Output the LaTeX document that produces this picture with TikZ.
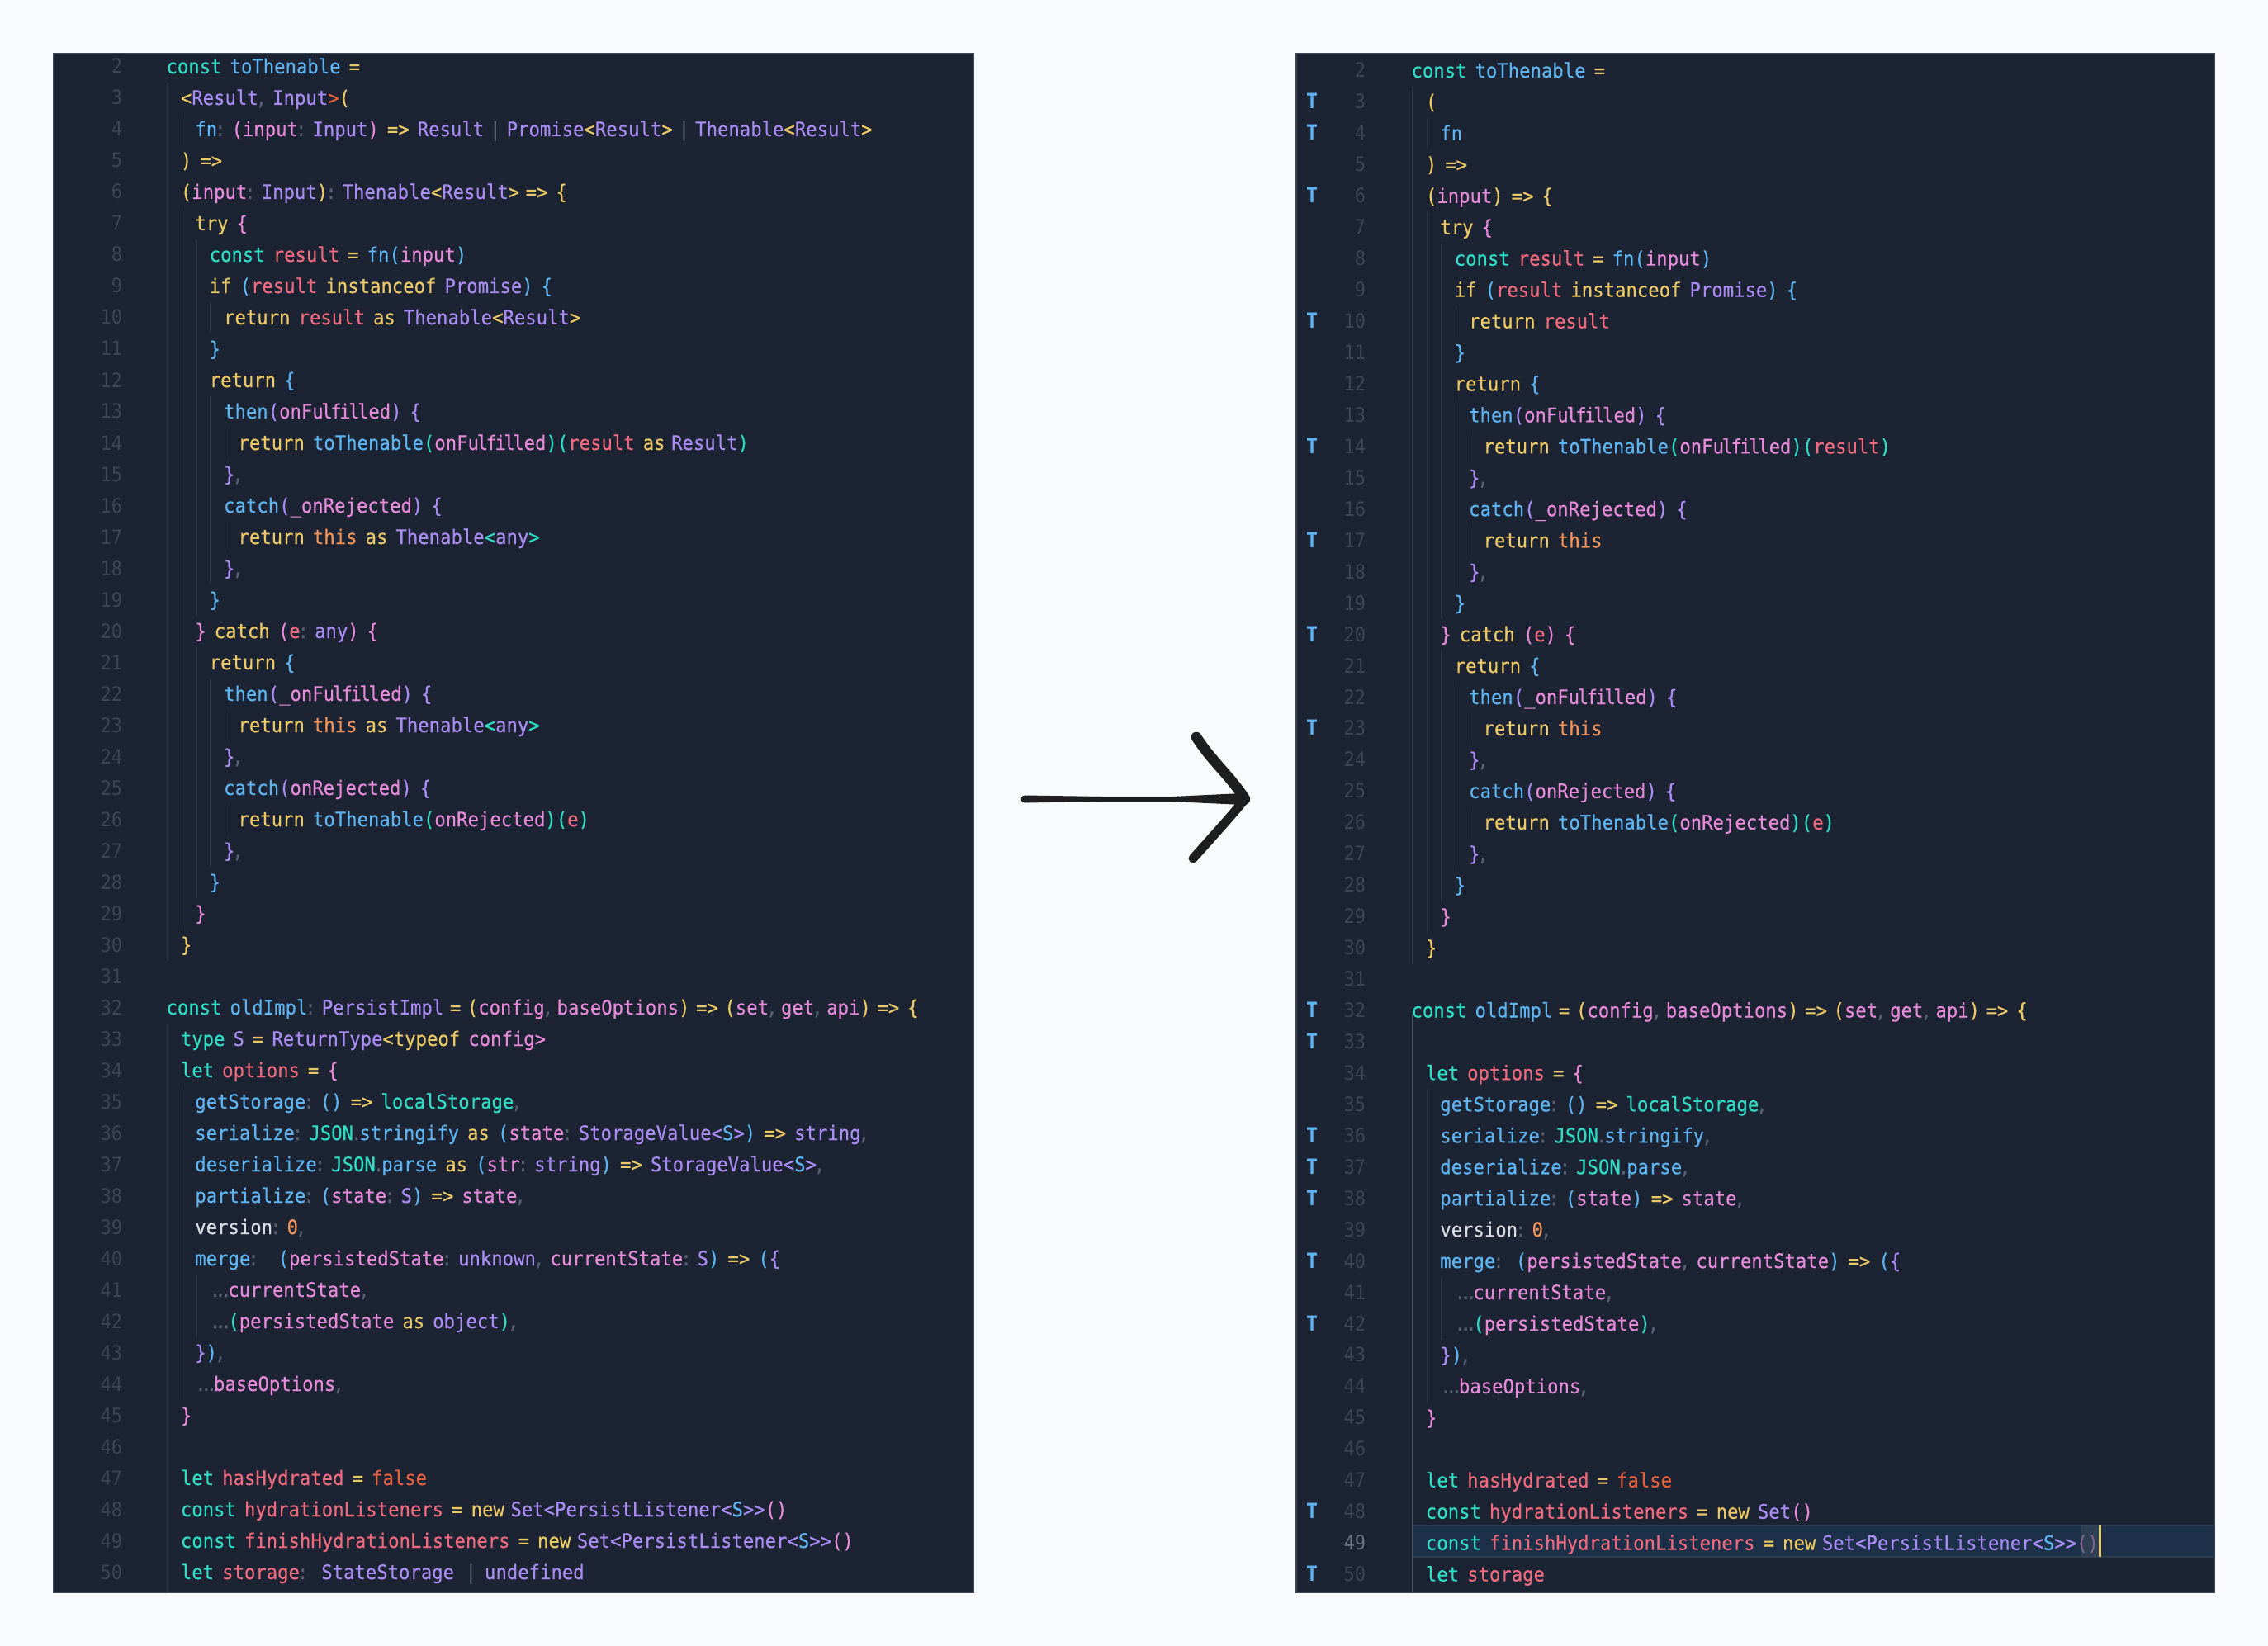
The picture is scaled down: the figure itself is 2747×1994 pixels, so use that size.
\documentclass[tikz,border=0pt]{standalone}
\usepackage{fontspec}
\usepackage{xcolor}
\usetikzlibrary{calc}
\newfontfamily\codefont[FakeStretch=0.92,FakeBold=0.35,WordSpace=0.75]{DejaVu Sans Mono}
\newfontfamily\numfont[FakeStretch=0.92]{DejaVu Sans Mono}

\definecolor{pageBg}{HTML}{F9FAFC}
\definecolor{panelBg}{HTML}{1C2332}
\definecolor{panelEdge}{HTML}{3D4454}
\definecolor{guideDim}{HTML}{2B3343}
\definecolor{guideLit}{HTML}{4A5262}
\definecolor{numDim}{HTML}{3C4455}
\definecolor{numLit}{HTML}{6A7282}
\definecolor{rowLit}{HTML}{1D3049}
\definecolor{rowEdge}{HTML}{2E3D50}
\definecolor{matchBox}{HTML}{3A4A5C}
\definecolor{arrowInk}{HTML}{1E1E1E}
\definecolor{tealC}{HTML}{2FDCC4}
\definecolor{blueC}{HTML}{5EB4F0}
\definecolor{goldC}{HTML}{ECC967}
\definecolor{violetC}{HTML}{A98CF2}
\definecolor{pinkC}{HTML}{E58AD8}
\definecolor{redC}{HTML}{EE6A7E}
\definecolor{orangeC}{HTML}{F2935A}
\definecolor{falseC}{HTML}{E5603F}
\definecolor{whiteC}{HTML}{D8DDE4}
\definecolor{dimC}{HTML}{566072}

\newcommand{\cTl}[1]{\textcolor{tealC}{#1}}
\newcommand{\cBu}[1]{\textcolor{blueC}{#1}}
\newcommand{\cGd}[1]{\textcolor{goldC}{#1}}
\newcommand{\cVi}[1]{\textcolor{violetC}{#1}}
\newcommand{\cPk}[1]{\textcolor{pinkC}{#1}}
\newcommand{\cRd}[1]{\textcolor{redC}{#1}}
\newcommand{\cOr}[1]{\textcolor{orangeC}{#1}}
\newcommand{\cFa}[1]{\textcolor{falseC}{#1}}
\newcommand{\cWh}[1]{\textcolor{whiteC}{#1}}
% commas, colons and dots sit tight in this font
\newcommand{\cDm}[1]{\hspace{-0.85pt}\textcolor{dimC}{#1}\hspace{-0.85pt}}
\newcommand{\cEll}{\textcolor{dimC}{.\hspace{-1.9pt}.\hspace{-1.9pt}.}\hspace{-1.2pt}}
\newcommand{\tn}{\hspace{-0.7pt}}
\newcommand{\onFul}{onFu\tn l\tn f\tn i\tn l\tn led}

\tikzset{
    codetext/.style={anchor=base west, inner sep=0pt, outer sep=0pt,
        font=\codefont\fontsize{6.88pt}{8pt}\selectfont\frenchspacing},
    lineno/.style={anchor=base east, inner sep=0pt, text=numDim,
        font=\numfont\fontsize{6.84pt}{8pt}\selectfont},
    gutterT/.style={anchor=base, inner sep=0pt, text=blueC,
        font=\numfont\bfseries\fontsize{7.2pt}{8pt}\selectfont},
    guide/.style={draw=guideDim, line width=0.4pt},
    guideOn/.style={draw=guideLit, line width=0.45pt},
}

% one row of code: number, indent level, text
\newcommand{\codeRow}[3]{%
    \node[codetext] (\sideTag-#1) at ({\baseX-1.5+#2*17.4},{\baseY+(#1-2)*\rowH}) {#3};%
}

% rows that are the same in both panels
\newcommand{\sharedRows}{%
    \codeRow{2}{0}{\cTl{const} \cBu{toThenable} \cGd{=}}
    \codeRow{5}{1}{\cGd{) =>}}
    \codeRow{7}{2}{\cGd{try} \cPk{\{}}
    \codeRow{8}{3}{\cTl{const} \cRd{result} \cGd{=} \cBu{fn(}\cPk{input}\cBu{)}}
    \codeRow{9}{3}{\cGd{if} \cBu{(}\cRd{result} \cGd{instanceof} \cVi{Promise}\cBu{) \{}}
    \codeRow{11}{3}{\cBu{\}}}
    \codeRow{12}{3}{\cGd{return} \cBu{\{}}
    \codeRow{13}{4}{\cBu{then}\cVi{(}\cPk{\onFul}\cVi{) \{}}
    \codeRow{15}{4}{\cVi{\}}\cDm{,}}
    \codeRow{16}{4}{\cBu{catch}\cVi{(}\cPk{\_onRejected}\cVi{) \{}}
    \codeRow{18}{4}{\cVi{\}}\cDm{,}}
    \codeRow{19}{3}{\cBu{\}}}
    \codeRow{21}{3}{\cGd{return} \cBu{\{}}
    \codeRow{22}{4}{\cBu{then}\cVi{(}\cPk{\_\onFul}\cVi{) \{}}
    \codeRow{24}{4}{\cVi{\}}\cDm{,}}
    \codeRow{25}{4}{\cBu{catch}\cVi{(}\cPk{onRejected}\cVi{) \{}}
    \codeRow{26}{5}{\cGd{return} \cBu{toThenable}\cTl{(}\cPk{onRejected}\cTl{)(}\cRd{e}\cTl{)}}
    \codeRow{27}{4}{\cVi{\}}\cDm{,}}
    \codeRow{28}{3}{\cBu{\}}}
    \codeRow{29}{2}{\cPk{\}}}
    \codeRow{30}{1}{\cGd{\}}}
    \codeRow{34}{1}{\cTl{let} \cRd{options} \cGd{=} \cPk{\{}}
    \codeRow{35}{2}{\cBu{getStorage}\cDm{:} \cBu{()} \cGd{=>} \cTl{localStorage}\cDm{,}}
    \codeRow{39}{2}{\cWh{version}\cDm{:} \cOr{0}\cDm{,}}
    \codeRow{41}{3}{\cEll\cPk{currentState}\cDm{,}}
    \codeRow{43}{2}{\cVi{\}}\cBu{)}\cDm{,}}
    \codeRow{44}{2}{\cEll\cPk{baseOptions}\cDm{,}}
    \codeRow{45}{1}{\cPk{\}}}
    \codeRow{47}{1}{\cTl{let} \cRd{hasHydrated} \cGd{=} \cFa{false}}
    \codeRow{49}{1}{\cTl{const} \cRd{finishHydrationListeners} \cGd{=} \cGd{new}\tn\ \cVi{Set<PersistListener<}\cBu{S}\cVi{>>}\cPk{()}}
}

% indent guides and line numbers
\newcommand{\panelFrame}{%
    \foreach \lvl/\from/\upto in {0/3/30,0/33/50,1/4/4,1/7/29,1/35/44,2/8/19,2/21/28,2/41/42,3/10/10,3/13/18,3/22/27,4/14/14,4/17/17,4/23/23,4/26/26}
    {
        \draw[guide] ({\baseX+(\lvl)*17.4},{\baseY+(\from-2)*\rowH-27}) -- ({\baseX+(\lvl)*17.4},{\baseY+(\upto-2)*\rowH+11});
    }
    \foreach \n in {2,...,50}
    {
        \node[lineno] (\sideTag-num-\n) at (\numX,{\baseY+(\n-2)*\rowH}) {\n};
    }
}

\begin{document}
\begin{tikzpicture}[x=0.01cm,y=-0.01cm]
\fill[pageBg] (0,0) rectangle (2747,1994);

%left panel
\begin{scope}
\def\sideTag{lft}
\def\baseX{203}
\def\baseY{89}
\def\numX{149}
\def\rowH{38}
\filldraw[fill=panelBg,draw=panelEdge,line width=0.3pt] (65,65) rectangle (1179,1929);
\panelFrame
\draw[guide] (203,1900) -- (203,1929);
\sharedRows
\codeRow{3}{1}{\cGd{<}\cVi{Result}\cDm{,} \cVi{Input}\cFa{>}\cGd{(}}
\codeRow{4}{2}{\cBu{fn}\cDm{:} \cPk{(input}\cDm{:} \cVi{Input}\cPk{)} \cGd{=>} \cVi{Result} \cDm{|} \cVi{Promise}\cGd{<}\cVi{Result}\cGd{>} \cDm{|} \cVi{Thenable}\cGd{<}\cVi{Result}\cGd{>}}
\codeRow{6}{1}{\cGd{(}\cPk{input}\cDm{:} \cVi{Input}\cGd{)}\cDm{:} \cVi{Thenable}\cGd{<}\cVi{Result}\cGd{>}\tn\ \cGd{=> \{}}
\codeRow{10}{4}{\cGd{return} \cRd{result} \cGd{as} \cVi{Thenable}\cGd{<}\cVi{Result}\cGd{>}}
\codeRow{14}{5}{\cGd{return} \cBu{toThenable}\cTl{(}\cPk{\onFul}\cTl{)(}\cRd{result} \cGd{as}\tn\ \cVi{Result}\cTl{)}}
\codeRow{17}{5}{\cGd{return} \cOr{this} \cGd{as} \cVi{Thenable}\cTl{<}\cVi{any}\cTl{>}}
\codeRow{20}{2}{\cPk{\}} \cGd{catch} \cPk{(}\cRd{e}\cDm{:} \cVi{any}\cPk{) \{}}
\codeRow{23}{5}{\cGd{return} \cOr{this} \cGd{as} \cVi{Thenable}\cTl{<}\cVi{any}\cTl{>}}
\codeRow{32}{0}{\cTl{const} \cBu{oldImpl}\cDm{:} \cVi{PersistImpl}\tn\ \cGd{=}\tn\ \cGd{(}\cPk{config}\cDm{,}\tn\ \cPk{baseOptions}\cGd{)}\tn\ \cGd{=>}\tn\ \cGd{(}\cPk{set}\cDm{,}\tn\ \cPk{get}\cDm{,}\tn\ \cPk{api}\cGd{)}\tn\ \cGd{=> \{}}
\codeRow{33}{1}{\cTl{type} \cVi{S} \cGd{=} \cVi{ReturnType}\cGd{<typeof} \cPk{config>}}
\codeRow{36}{2}{\cBu{serialize}\cDm{:} \cTl{JSON}\cDm{.}\cBu{stringify} \cGd{as} \cBu{(}\cPk{state}\cDm{:} \cVi{StorageValue<}\cBu{S}\cVi{>}\cBu{)} \cGd{=>} \cVi{string}\cDm{,}}
\codeRow{37}{2}{\cBu{deserialize}\cDm{:} \cTl{JSON}\cDm{.}\cBu{parse} \cGd{as} \cBu{(}\cPk{str}\cDm{:} \cVi{string}\cBu{)} \cGd{=>} \cVi{StorageValue<}\cBu{S}\cVi{>}\cDm{,}}
\codeRow{38}{2}{\cBu{partialize}\cDm{:} \cBu{(}\cPk{state}\cDm{:} \cVi{S}\cBu{)} \cGd{=>} \cPk{state}\cDm{,}}
\codeRow{40}{2}{\cBu{merge}\cDm{:}\hspace{4.5pt} \cBu{(}\cPk{persistedState}\cDm{:} \cVi{unknown}\cDm{,} \cPk{currentState}\cDm{:} \cVi{S}\cBu{)} \cGd{=>} \cBu{(}\cVi{\{}}
\codeRow{42}{3}{\cEll\cTl{(}\cPk{persistedState} \cGd{as} \cVi{object}\cTl{)}\cDm{,}}
\codeRow{48}{1}{\cTl{const} \cRd{hydrationListeners} \cGd{=} \cGd{new}\tn\ \cVi{Set<PersistListener<}\cBu{S}\cVi{>>}\cPk{()}}
\codeRow{50}{1}{\cTl{let} \cRd{storage}\cDm{:}\hspace{2.5pt} \cVi{StateStorage}\hspace{1pt} \textcolor{dimC}{|} \cVi{undefined}}
\end{scope}

%right panel
\begin{scope}
\def\sideTag{rgt}
\def\baseX{1711}
\def\baseY{94}
\def\numX{1655}
\def\rowH{37.95}
\filldraw[fill=panelBg,draw=panelEdge,line width=0.3pt] (1570,65) rectangle (2682,1929);
%current row
\filldraw[fill=rowLit,draw=rowEdge,line width=0.6pt] (1711,1848) rectangle (2682,1886);
\panelFrame
\draw[guideOn] (1711,1228) -- (1711,1929);
\sharedRows
\coordinate (caretPt) at (rgt-49.base east);
\fill[matchBox,fill opacity=0.6] ($(caretPt |- 0,1848)+(-21,0)$) rectangle ($(caretPt |- 0,1886)$);
\fill[goldC] ($(caretPt |- 0,1848)$) rectangle ($(caretPt |- 0,1886)+(3.5,0)$);
\node[lineno,text=numLit,fill=panelBg] (rgt-num-lit) at (\numX,{\baseY+47*\rowH}) {49};
\codeRow{3}{1}{\cGd{(}}
\codeRow{4}{2}{\cBu{fn}}
\codeRow{6}{1}{\cGd{(}\cPk{input}\cGd{) => \{}}
\codeRow{10}{4}{\cGd{return} \cRd{result}}
\codeRow{14}{5}{\cGd{return} \cBu{toThenable}\cTl{(}\cPk{\onFul}\cTl{)(}\cRd{result}\cTl{)}}
\codeRow{17}{5}{\cGd{return} \cOr{this}}
\codeRow{20}{2}{\cPk{\}} \cGd{catch} \cPk{(}\cRd{e}\cPk{) \{}}
\codeRow{23}{5}{\cGd{return} \cOr{this}}
\codeRow{32}{0}{\cTl{const} \cBu{oldImpl}\tn\ \cGd{=}\tn\ \cGd{(}\cPk{config}\cDm{,}\tn\ \cPk{baseOptions}\cGd{)}\tn\ \cGd{=>}\tn\ \cGd{(}\cPk{set}\cDm{,}\tn\ \cPk{get}\cDm{,}\tn\ \cPk{api}\cGd{)}\tn\ \cGd{=> \{}}
\codeRow{36}{2}{\cBu{serialize}\cDm{:} \cTl{JSON}\cDm{.}\cBu{stringify}\cDm{,}}
\codeRow{37}{2}{\cBu{deserialize}\cDm{:} \cTl{JSON}\cDm{.}\cBu{parse}\cDm{,}}
\codeRow{38}{2}{\cBu{partialize}\cDm{:} \cBu{(}\cPk{state}\cBu{)} \cGd{=>} \cPk{state}\cDm{,}}
\codeRow{40}{2}{\cBu{merge}\cDm{:}\hspace{2pt} \cBu{(}\cPk{persistedState}\cDm{,} \cPk{currentState}\cBu{)} \cGd{=>} \cBu{(}\cVi{\{}}
\codeRow{42}{3}{\cEll\cTl{(}\cPk{persistedState}\cTl{)}\cDm{,}}
\codeRow{48}{1}{\cTl{const} \cRd{hydrationListeners} \cGd{=} \cGd{new} \cVi{Set}\cPk{()}}
\codeRow{50}{1}{\cTl{let} \cRd{storage}}
\foreach \n in {3,4,6,10,14,17,20,23,32,33,36,37,38,40,42,48,50}
{
    \node[gutterT] (rgt-T-\n) at (1589,{\baseY+(\n-2)*\rowH}) {T};
}
\end{scope}

%arrow between the panels
\coordinate (arwTail) at (1241,968);
\coordinate (arwTip) at (1508,968);
\coordinate (arwTop) at (1449,893);
\coordinate (arwBot) at (1445,1040);
\draw[arrowInk,line width=1.9pt,line cap=round] (arwTail) -- (arwTip);
\fill[arrowInk] (arwTail) circle (4.5);
\fill[arrowInk] (1241,963.5) -- (1335,965) -- (1335,971) -- (1241,972.5) -- cycle;
\fill[arrowInk] (1420,965) -- (1505,961) -- (1505,975) -- (1420,971) -- cycle;
\draw[arrowInk,line width=3.6pt,line cap=round] (arwTop) .. controls (1470,925) and (1490,940) .. (arwTip);
\draw[arrowInk,line width=3.1pt,line cap=round] (arwTip) .. controls (1490,990) and (1470,1012) .. (arwBot);

\end{tikzpicture}
\end{document}
